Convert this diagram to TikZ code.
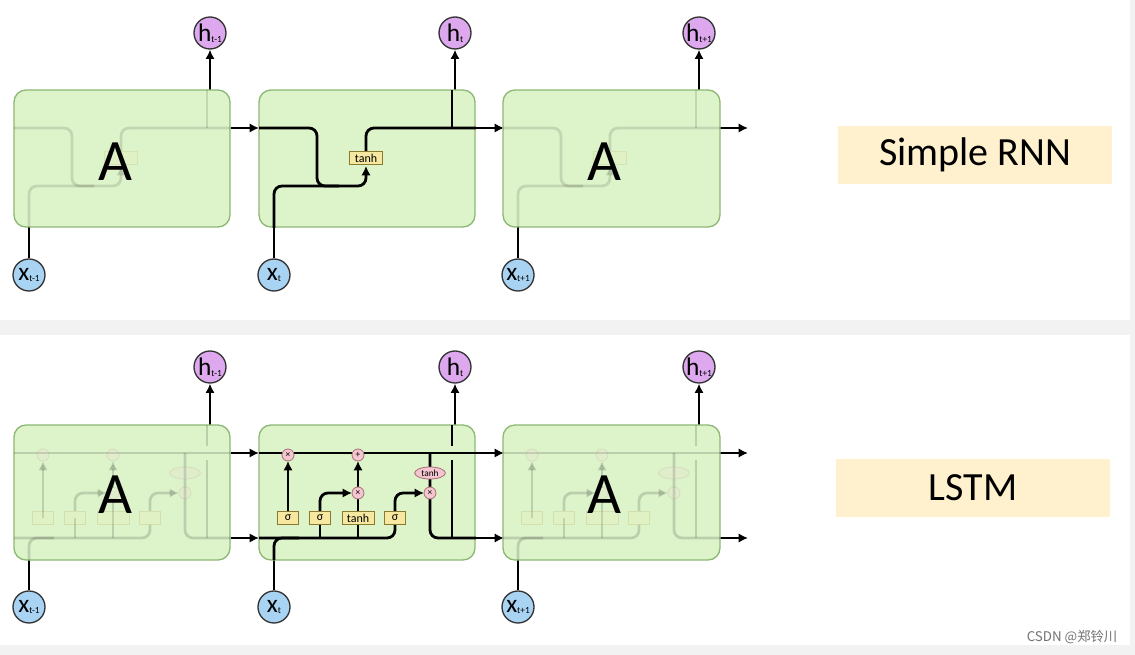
\documentclass[tikz,border=0pt]{standalone}
\usepackage{fontspec}
\setmainfont{Carlito}
\newfontfamily\cjk{Noto Sans CJK SC}
\usetikzlibrary{arrows.meta,shapes.geometric}
\definecolor{cellfill}{HTML}{DDF4CB}
\definecolor{celldraw}{HTML}{8DB874}
\definecolor{hfill}{HTML}{DDA8EE}
\definecolor{xfill}{HTML}{A9D3F2}
\definecolor{gatefill}{HTML}{F6E8A0}
\definecolor{gatedraw}{HTML}{8A7A30}
\definecolor{opfill}{HTML}{F4C6CF}
\definecolor{opdraw}{HTML}{A86E78}
\definecolor{labfill}{HTML}{FFF1CE}
\tikzset{x=0.75pt,y=-0.75pt,
 ln/.style={line width=2.1pt,rounded corners=6pt},
 ar/.style={ln,-{Latex[length=7pt,width=7pt]}},
 cell/.style={draw=celldraw,fill=cellfill,line width=1pt,rounded corners=9pt},
 hc/.style={circle,draw=black!80,line width=1pt,fill=hfill,minimum size=24pt,inner sep=0pt,font=\fontsize{19}{19}\selectfont},
 xc/.style={circle,draw=black!80,line width=1pt,fill=xfill,minimum size=24pt,inner sep=0pt,font=\fontsize{19}{19}\selectfont},
 gate/.style={draw=gatedraw,fill=gatefill,line width=0.6pt,minimum width=16pt,minimum height=10pt,inner sep=0pt,font=\fontsize{9}{9}\selectfont},
 op/.style={circle,draw=opdraw,fill=opfill,line width=0.6pt,minimum size=9pt,inner sep=0pt,font=\fontsize{7}{7}\selectfont},
 el/.style={ellipse,draw=opdraw,fill=opfill,line width=0.6pt,minimum width=23pt,minimum height=9pt,inner sep=0pt,font=\fontsize{7}{7}\selectfont},
 lab/.style={fill=labfill,minimum width=205pt,minimum height=44pt,font=\fontsize{30}{30}\selectfont}}
\newcommand\dropit[1]{}
\newcommand\keepit[1]{#1}
\newcommand\rnninner[3]{%
\begin{scope}[shift={(#1,0)},opacity=#2]
 \draw[ln] (0,128) -- (58,128) -- (58,186) -- (80,186);
 \draw[ar] (15,228) -- (15,186) -- (107,186) -- (107,166);
 \node[gate,minimum width=25pt] (g#1) at (107,158) {#3{tanh}};
 \draw[ln] (107,151) -- (107,128) -- (217,128);
 \draw[ln] (193,128) -- (193,90);
\end{scope}}
\newcommand\lstminner[3]{%
\begin{scope}[shift={(#1,0)},opacity=#2]
 \draw[ln] (0,453) -- (217,453);
 \draw[ln] (0,538) -- (136,538) -- (136,525);
 \draw[ln] (15,560) -- (15,538) -- (40,538);
 \draw[ar] (29,518) -- (29,461);
 \draw[ln] (61,538) -- (61,518);
 \draw[ar] (61,511) -- (61,493) -- (93,493);
 \draw[ln] (99,538) -- (99,499);
 \draw[ar] (99,488) -- (99,461);
 \draw[ar] (136,511) -- (136,493) -- (165,493);
 \draw[ln] (171,453) -- (171,538) -- (217,538);
 \draw[ln] (193,538) -- (193,460);
 \draw[ln] (193,446) -- (193,425);
 \node[gate] (s1#1) at (29,518) {#3{σ}};
 \node[gate] (s2#1) at (61,518) {#3{σ}};
 \node[gate,minimum width=24pt] (t1#1) at (99,518) {#3{tanh}};
 \node[gate] (s3#1) at (136,518) {#3{σ}};
 \node[op] (m1#1) at (29,455) {#3{×}};
 \node[op] (p1#1) at (99,455) {#3{+}};
 \node[op] (m2#1) at (99,493) {#3{×}};
 \node[el] (t2#1) at (171,473) {#3{tanh}};
 \node[op] (m3#1) at (171,493) {#3{×}};
\end{scope}}
\begin{document}
\begin{tikzpicture}
\fill[black!5] (0,0) rectangle (1135,655);
\useasboundingbox (0,0) rectangle (1135,655);
\fill[white] (0,0) rectangle (1130,320);
\fill[white] (0,335) rectangle (1130,645);
% ---------- Simple RNN ----------
\foreach \l/\i [count=\k] in {14/{t-1},259/t,503/{t+1}}{
  \node[hc] (h\k) at (\l+196,33) {h\raisebox{-0.5pt}{\fontsize{7}{7}\selectfont\i}};
  \node[xc] (x\k) at (\l+15,275) {x\raisebox{-0.5pt}{\fontsize{7}{7}\selectfont\i}};
  \draw[ar] (\l+196,90) -- (h\k);
  \draw[ln] (x\k) -- (\l+15,227);
  \draw[ar] (\l+217,128) -- (\l+245,128);
}
\draw[cell] (14,90) rectangle (230,227);
\rnninner{14}{0.12}{\dropit}
\node[font=\fontsize{44}{44}\selectfont] (A1) at (115,162) {A};
\draw[cell] (259,90) rectangle (475,227);
\rnninner{259}{1}{\keepit}
\draw[cell] (503,90) rectangle (720,227);
\rnninner{503}{0.12}{\dropit}
\node[font=\fontsize{44}{44}\selectfont] (A3) at (604,162) {A};
\node[lab] (rnn) at (975,155) {Simple RNN};
% ---------- LSTM ----------
\foreach \l/\i [count=\k] in {14/{t-1},259/t,503/{t+1}}{
  \node[hc] (lh\k) at (\l+196,367) {h\raisebox{-0.5pt}{\fontsize{7}{7}\selectfont\i}};
  \node[xc] (lx\k) at (\l+15,607) {x\raisebox{-0.5pt}{\fontsize{7}{7}\selectfont\i}};
  \draw[ar] (\l+196,425) -- (lh\k);
  \draw[ln] (lx\k) -- (\l+15,560);
  \draw[ar] (\l+217,453) -- (\l+245,453);
  \draw[ar] (\l+217,538) -- (\l+245,538);
}
\draw[cell] (14,425) rectangle (230,560);
\lstminner{14}{0.15}{\dropit}
\node[font=\fontsize{44}{44}\selectfont] (A4) at (115,495) {A};
\draw[cell] (259,425) rectangle (475,560);
\lstminner{259}{1}{\keepit}
\draw[cell] (503,425) rectangle (720,560);
\lstminner{503}{0.15}{\dropit}
\node[font=\fontsize{44}{44}\selectfont] (A6) at (604,495) {A};
\node[lab] (lstm) at (973,488) {LSTM};
\node[text=black!55,font=\cjk\fontsize{10}{10}\selectfont] (wm) at (1072,637) {CSDN @郑铃川};
\end{tikzpicture}
\end{document}
